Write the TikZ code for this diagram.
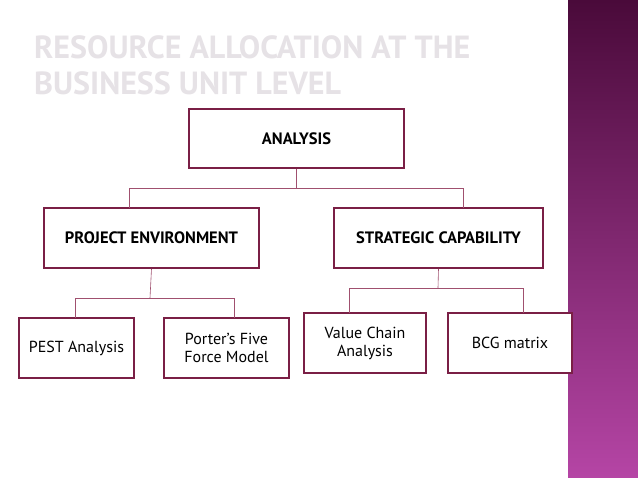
\documentclass[tikz,border=0pt]{standalone}
\usepackage{fontspec}
\setmainfont{PT Sans}
\definecolor{bx}{HTML}{7A1F45}
\definecolor{ln}{HTML}{A0506F}
\definecolor{ptop}{HTML}{4A0A3A}
\definecolor{pbot}{HTML}{B545A5}
\definecolor{ttl}{HTML}{E6E2E6}
\begin{document}
\begin{tikzpicture}[x=1pt,y=-1pt,
  box/.style={draw=bx,line width=1.6pt,fill=white,align=center,inner sep=0pt,font=\fontsize{16}{18}\selectfont},
  hbox/.style={box,font=\fontsize{16.5}{18}\selectfont\bfseries},
  con/.style={draw=ln,line width=0.6pt}]
\useasboundingbox (0,0) rectangle (638,478);
\fill[white] (0,0) rectangle (638,478);
\shade[top color=ptop,bottom color=pbot] (568,0) rectangle (638,478);
\node[anchor=north west,align=left,text=ttl,font=\fontsize{32}{36}\selectfont\bfseries,inner sep=0pt] (t) at (34,35) {RESOURCE ALLOCATION AT THE\\BUSINESS UNIT LEVEL};
\node[hbox,minimum width=215pt,minimum height=59pt] (a) at (296.5,138.5) {ANALYSIS};
\node[hbox,minimum width=215pt,minimum height=60pt] (pe) at (151.5,238) {PROJECT ENVIRONMENT};
\node[hbox,minimum width=209pt,minimum height=60pt] (sc) at (438.5,238) {STRATEGIC CAPABILITY};
\node[box,minimum width=115pt,minimum height=60pt] (p1) at (76.5,348) {PEST Analysis};
\node[box,minimum width=125pt,minimum height=60pt] (p2) at (226.5,348) {Porter’s Five\\Force Model};
\node[box,minimum width=122pt,minimum height=60pt] (v) at (365,343) {Value Chain\\Analysis};
\node[box,minimum width=124pt,minimum height=60pt] (b) at (510,343) {BCG matrix};
\coordinate (j1) at (296.5,188);
\coordinate (j2) at (150,298);
\coordinate (j3) at (438,288);
\draw[con] (a.south) -- (j1);
\draw[con] (129,208) -- (129,188) -- (463,188) -- (463,208);
\draw[con] (pe.south) -- (j2);
\draw[con] (75,318) -- (75,298) -- (234,298) -- (234,318);
\draw[con] (sc.south) -- (j3);
\draw[con] (349,313) -- (349,288) -- (523,288) -- (523,313);
\end{tikzpicture}
\end{document}
